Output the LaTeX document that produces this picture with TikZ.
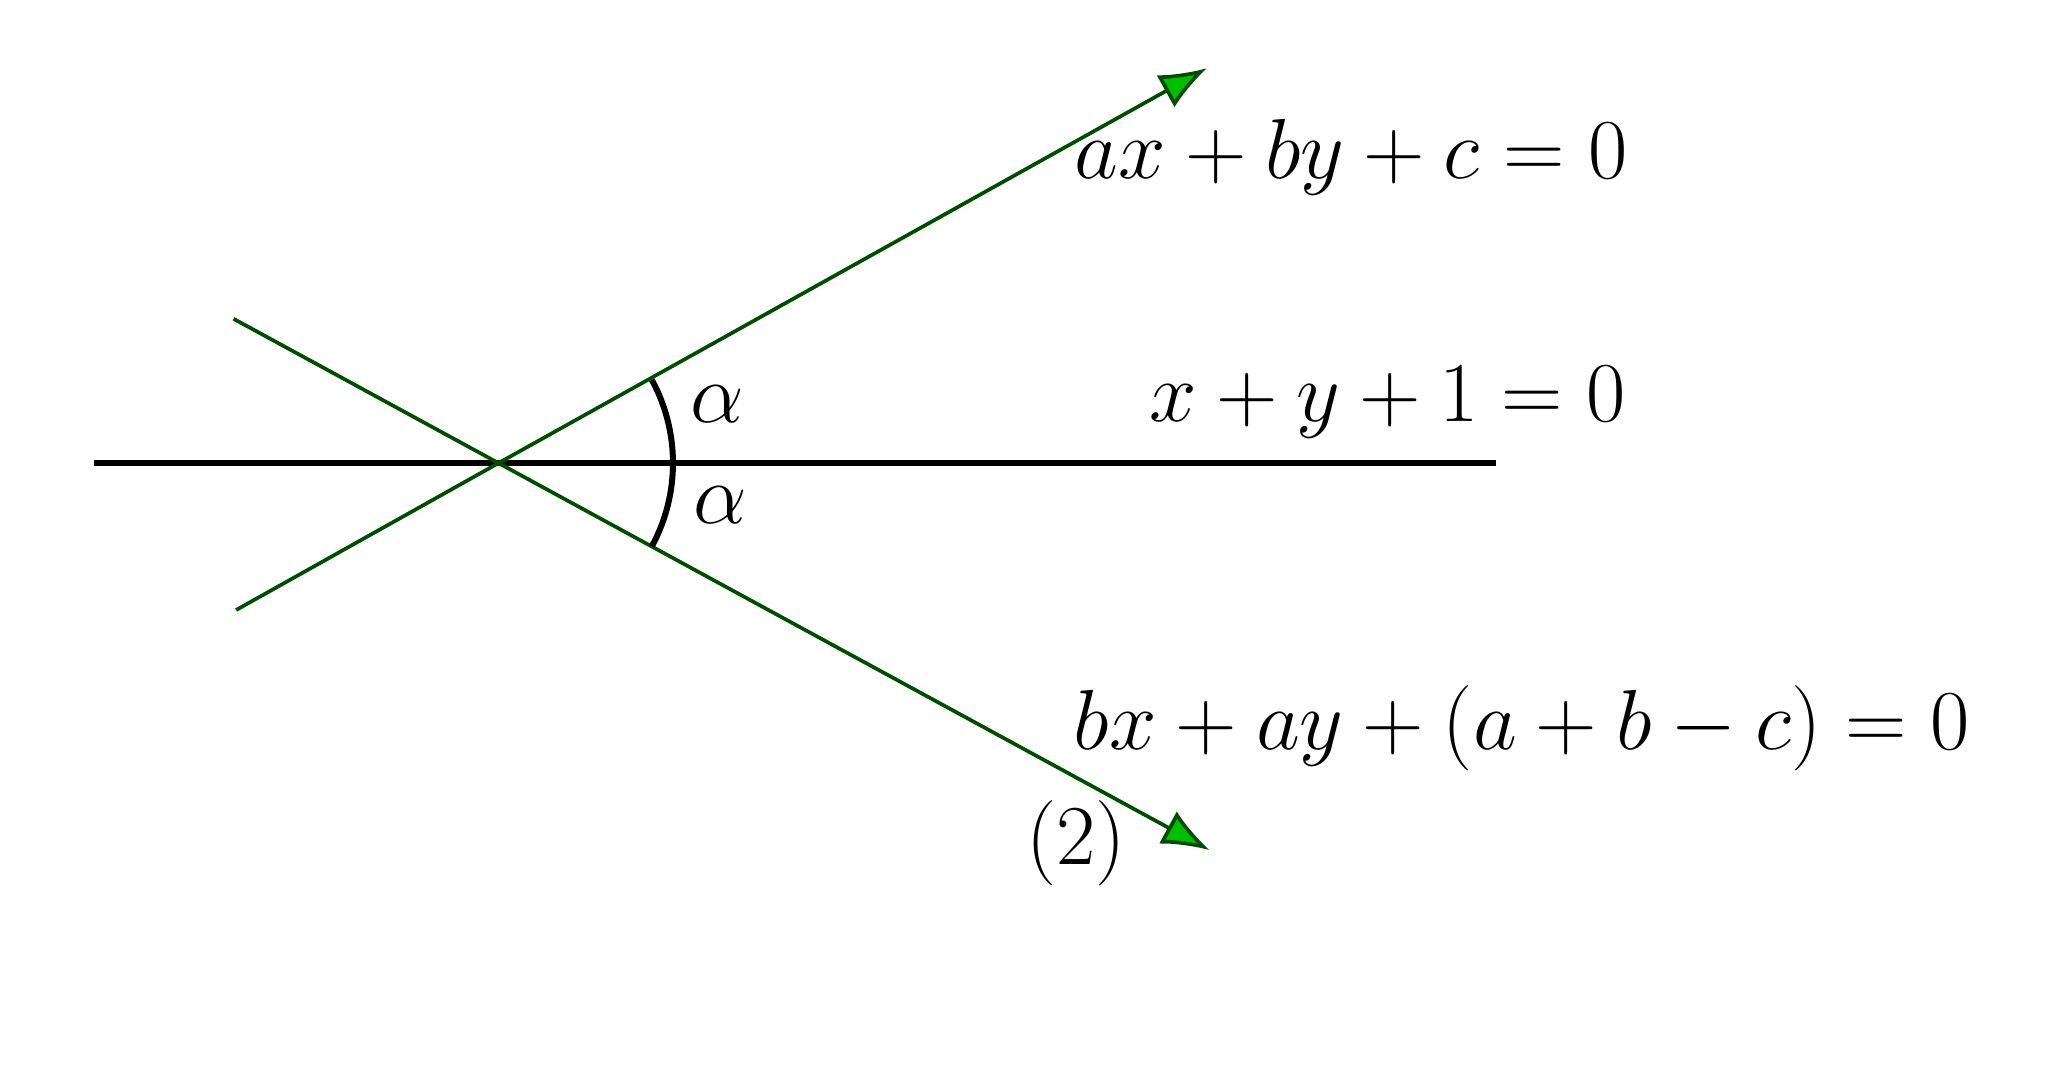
\documentclass[tikz,border=0pt]{standalone}
\usetikzlibrary{arrows.meta}

\begin{document}
\begin{tikzpicture}[
    line/.style={green!30!black, line width=0.8pt},
    ray/.style={line, -{Latex[length=3.6mm,width=2.8mm,fill=green!75!black]}},
    eqlabel/.style={font=\fontsize{17.28}{20}\selectfont, inner sep=0pt, scale=1.07, transform shape}
  ]
  % Fix the frame
  \useasboundingbox (0,0) rectangle (15.68,8.28);

  % Point of intersection and end points
  \coordinate (O) at (3.80,4.75);
  \coordinate (upTail) at (1.80,3.63);
  \coordinate (upTip) at (9.20,7.76);
  \coordinate (lowTail) at (1.78,5.85);
  \coordinate (lowTip) at (9.22,1.80);
  \coordinate (midLeft) at (0.72,4.75);
  \coordinate (midRight) at (11.40,4.75);

  % Draw the bisector line
  \draw[line width=1.2pt] (midLeft) -- (midRight);

  % Draw the two lines
  \draw[ray] (upTail) -- (O) -- (upTip);
  \draw[ray] (lowTail) -- (O) -- (lowTip);

  % Draw the angle arc
  \draw[line width=1.3pt] ([shift={(-28.5:1.33)}]O) arc[start angle=-28.5, end angle=28.5, radius=1.33];

  % Angle labels
  \node[eqlabel] (alphaUp) at (5.47,5.20) {$\alpha$};
  \node[eqlabel] (alphaLow) at (5.49,4.43) {$\alpha$};

  % Equations
  \node[eqlabel] (eqOne) at (10.30,7.08) {$ax+by+c=0$};
  \node[eqlabel] (eqMid) at (10.58,5.21) {$x+y+1=0$};
  \node[eqlabel] (eqTwo) at (11.60,2.73) {$bx+ay+(a+b-c)=0$};
  \node[eqlabel] (numTwo) at (8.20,1.85) {(2)};
\end{tikzpicture}
\end{document}
